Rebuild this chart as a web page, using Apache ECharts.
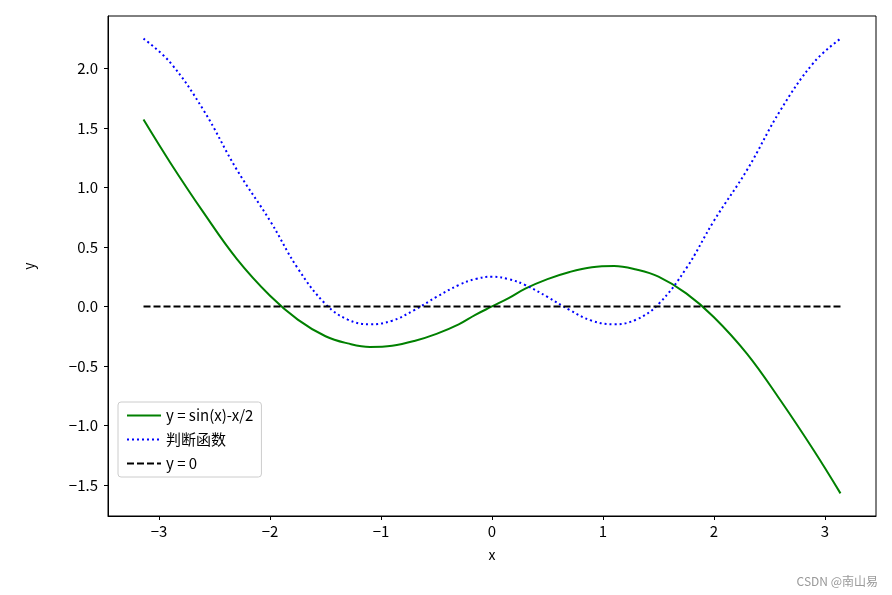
<!DOCTYPE html>
<html><head><meta charset="utf-8">
<script src="https://cdn.jsdelivr.net/npm/echarts@6/dist/echarts.min.js"></script>
<style>html,body{margin:0;padding:0;background:#fff}#c{width:892px;height:595px}</style>
</head><body><div id="c"></div>
<script>
// values
var xs = [-3.14,-2.9,-2.6,-2.3,-2.0,-1.75,-1.5,-1.3,-1.1,-0.9,-0.7,-0.5,-0.3,-0.15,0,0.15,0.3,0.5,0.7,0.9,1.1,1.3,1.5,1.75,2.0,2.3,2.6,2.9,3.14];
var ySin = [1.57,1.21,0.79,0.40,0.09,-0.11,-0.25,-0.31,-0.34,-0.33,-0.29,-0.23,-0.15,-0.07,0,0.07,0.15,0.23,0.29,0.33,0.34,0.31,0.25,0.11,-0.09,-0.40,-0.79,-1.21,-1.57];
var yJudge = [2.25,2.05,1.65,1.15,0.72,0.32,0.02,-0.11,-0.15,-0.12,-0.03,0.08,0.18,0.23,0.25,0.23,0.18,0.08,-0.03,-0.12,-0.15,-0.11,0.02,0.32,0.72,1.15,1.65,2.05,2.25];
var yZero = [[-3.14,0],[3.14,0]];
var names = ['y = sin(x)-x/2','判断函数','y = 0'];

function pairs(a){ return xs.map(function(x,i){ return [x,a[i]]; }); }
function fmt(v,d){ var s=Math.abs(v).toFixed(d); return (v<0?'\u2212':'')+s; }

var chart = echarts.init(document.getElementById('c'));
var font = '"Noto Sans CJK SC", sans-serif';
chart.setOption({
  animation:false,
  textStyle:{fontFamily:font},
  grid:{left:108,right:16,top:16,bottom:79,show:true,borderColor:'#000',borderWidth:1},
  legend:{
    orient:'vertical',left:118,top:402,data:names,
    itemWidth:34,itemHeight:12,itemGap:9,
    itemStyle:{color:'transparent',borderWidth:0},
    borderColor:'#ccc',borderWidth:1,borderRadius:3,padding:[6,8],
    backgroundColor:'#fff',
    textStyle:{fontFamily:font,fontSize:15,color:'#000'}
  },
  xAxis:{type:'value',min:-3.46,max:3.46,splitNumber:7,
    name:'x',nameLocation:'middle',nameGap:32,nameTextStyle:{fontSize:14,color:'#000'},
    splitLine:{show:false},axisLine:{onZero:false,lineStyle:{color:'#000'}},
    axisTick:{length:4,lineStyle:{color:'#000'}},
    axisLabel:{showMinLabel:false,showMaxLabel:false,fontSize:15,color:'#000',
      formatter:function(v){ return Math.abs(v-Math.round(v))<1e-6 ? fmt(Math.round(v),0) : ''; }}
  },
  yAxis:{type:'value',min:-1.76,max:2.44,splitNumber:8,
    name:'y',nameLocation:'middle',nameGap:72,nameTextStyle:{fontSize:14,color:'#000'},
    splitLine:{show:false},axisLine:{show:true,onZero:false,lineStyle:{color:'#000'}},
    axisTick:{show:true,length:4,lineStyle:{color:'#000'}},
    axisLabel:{showMinLabel:false,showMaxLabel:false,fontSize:15,color:'#000',margin:10,
      formatter:function(v){ return Math.abs(v*2-Math.round(v*2))<1e-6 ? fmt(v,1) : ''; }}
  },
  series:[
    {name:names[0],type:'line',data:pairs(ySin),smooth:0.4,symbol:'none',lineStyle:{color:'green',width:2},itemStyle:{color:'green'}},
    {name:names[1],type:'line',data:pairs(yJudge),smooth:0.4,symbol:'none',lineStyle:{color:'blue',width:2,type:[2,3]},itemStyle:{color:'blue'}},
    {name:names[2],type:'line',data:yZero,symbol:'none',lineStyle:{color:'#000',width:2,type:[7,3]},itemStyle:{color:'#000'}}
  ],
  graphic:[{type:'text',right:14,bottom:8,style:{text:'CSDN @南山易',fill:'#999',font:'12px '+font}}]
});
</script></body></html>
